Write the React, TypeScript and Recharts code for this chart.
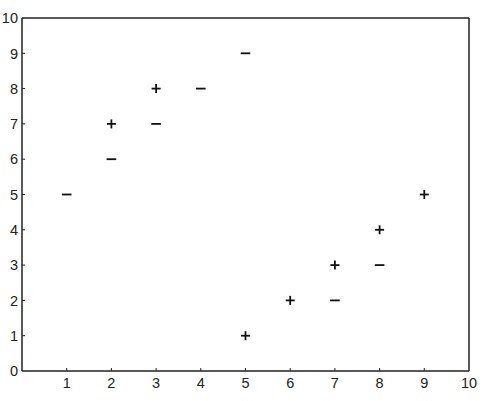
import React from 'react';
import { ScatterChart, Scatter, XAxis, YAxis } from 'recharts';

const plusPoints = [
  { x: 2, y: 7 },
  { x: 3, y: 8 },
  { x: 5, y: 1 },
  { x: 6, y: 2 },
  { x: 7, y: 3 },
  { x: 8, y: 4 },
  { x: 9, y: 5 },
];
const minusPoints = [
  { x: 1, y: 5 },
  { x: 2, y: 6 },
  { x: 3, y: 7 },
  { x: 4, y: 8 },
  { x: 5, y: 9 },
  { x: 7, y: 2 },
  { x: 8, y: 3 },
];
const xTicks = [1, 2, 3, 4, 5, 6, 7, 8, 9, 10];
const yTicks = [0, 1, 2, 3, 4, 5, 6, 7, 8, 9, 10];
const innerTicks = [1, 2, 3, 4, 5, 6, 7, 8, 9];

const AXIS = '#222';
const FONT = 'Arial, "Liberation Sans", sans-serif';

const PlusShape = (props: any) => {
  const { cx, cy } = props;
  if (cx == null || cy == null) return <g />;
  return (
    <g stroke="#111" strokeWidth={1.8}>
      <line x1={cx - 4.5} x2={cx + 4.5} y1={cy} y2={cy} />
      <line x1={cx} x2={cx} y1={cy - 4.5} y2={cy + 4.5} />
    </g>
  );
};

const MinusShape = (props: any) => {
  const { cx, cy } = props;
  if (cx == null || cy == null) return <g />;
  return (
    <g stroke="#111" strokeWidth={1.8}>
      <line x1={cx - 4.8} x2={cx + 4.8} y1={cy} y2={cy} />
    </g>
  );
};

const XTick = (props: any) => {
  const { x, y, payload } = props;
  const axisY = y - 10;
  return (
    <g>
      {payload.value !== 10 && (
        <line x1={x} x2={x} y1={axisY} y2={axisY - 3} stroke={AXIS} strokeWidth={1} />
      )}
      <text x={x} y={y + 6.5} textAnchor="middle" fontSize={14.5} fontFamily={FONT} fill="#222">
        {payload.value}
      </text>
    </g>
  );
};

const YTick = (props: any) => {
  const { x, y, payload } = props;
  const axisX = x + 4;
  return (
    <g>
      {payload.value !== 0 && payload.value !== 10 && (
        <line x1={axisX} x2={axisX + 3} y1={y} y2={y} stroke={AXIS} strokeWidth={1} />
      )}
      <text x={x} y={y + 5.2} textAnchor="end" fontSize={14.5} fontFamily={FONT} fill="#222">
        {payload.value}
      </text>
    </g>
  );
};

const noShape = () => <g />;

export default function App() {
  return (
    <div style={{ position: 'absolute', left: 0, top: 0, width: 485, height: 401, background: '#fff' }}>
      <ScatterChart width={485} height={401} margin={{ top: 18, right: 16, left: 0, bottom: 0 }}>
        <XAxis
          xAxisId={0}
          dataKey="x"
          type="number"
          domain={[0, 10]}
          ticks={xTicks}
          allowDataOverflow
          height={30}
          tickSize={0}
          tickMargin={10}
          tickLine={false}
          axisLine={{ stroke: AXIS, strokeWidth: 1.5 }}
          tick={<XTick />}
          interval={0}
        />
        <XAxis
          xAxisId="top"
          dataKey="x"
          orientation="top"
          type="number"
          domain={[0, 10]}
          ticks={innerTicks}
          allowDataOverflow
          mirror
          height={1}
          tick={false}
          tickSize={3}
          tickLine={{ stroke: AXIS, strokeWidth: 1 }}
          axisLine={{ stroke: AXIS, strokeWidth: 1.5 }}
          interval={0}
        />
        <YAxis
          yAxisId={0}
          dataKey="y"
          type="number"
          domain={[0, 10]}
          ticks={yTicks}
          allowDataOverflow
          width={22}
          tickSize={0}
          tickMargin={4}
          tickLine={false}
          axisLine={{ stroke: AXIS, strokeWidth: 1.5 }}
          tick={<YTick />}
          interval={0}
        />
        <YAxis
          yAxisId="right"
          dataKey="y"
          orientation="right"
          type="number"
          domain={[0, 10]}
          ticks={innerTicks}
          allowDataOverflow
          mirror
          width={1}
          tick={false}
          tickSize={3}
          tickLine={{ stroke: AXIS, strokeWidth: 1 }}
          axisLine={{ stroke: AXIS, strokeWidth: 1.5 }}
          interval={0}
        />
        <Scatter data={plusPoints} shape={<PlusShape />} isAnimationActive={false} />
        <Scatter data={minusPoints} shape={<MinusShape />} isAnimationActive={false} />
        <Scatter data={plusPoints} xAxisId="top" yAxisId="right" shape={noShape} isAnimationActive={false} />
      </ScatterChart>
    </div>
  );
}
